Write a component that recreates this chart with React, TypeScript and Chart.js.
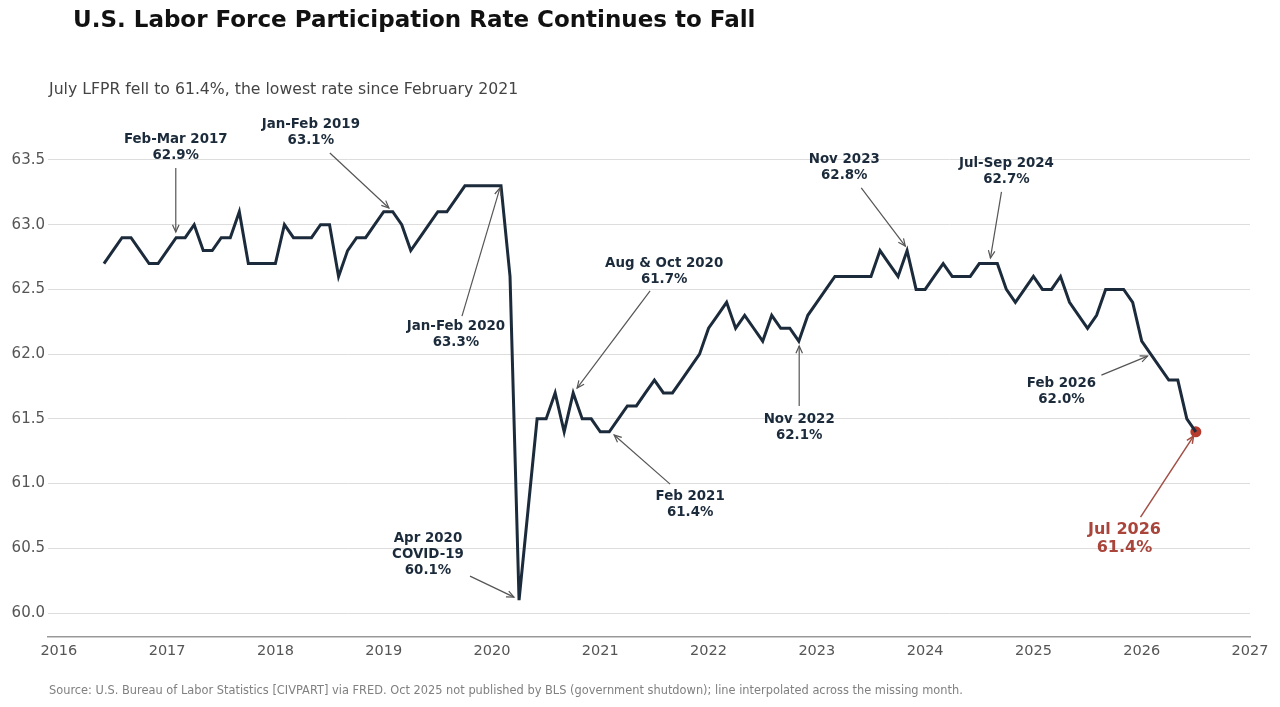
import React, { useEffect, useRef } from "react";
import { Chart, registerables } from "chart.js";

Chart.register(...registerables);

// ---- Data (monthly LFPR, %) ----
const START_YEAR = 2016;
const START_MONTH = 6; // series begins June 2016
const lfpr2016 = [62.7, 62.8, 62.9, 62.9, 62.8, 62.7, 62.7];
const lfpr2017 = [62.8, 62.9, 62.9, 63.0, 62.8, 62.8, 62.9, 62.9, 63.1, 62.7, 62.7, 62.7];
const lfpr2018 = [62.7, 63.0, 62.9, 62.9, 62.9, 63.0, 63.0, 62.6, 62.8, 62.9, 62.9, 63.0];
const lfpr2019 = [63.1, 63.1, 63.0, 62.8, 62.9, 63.0, 63.1, 63.1, 63.2, 63.3, 63.3, 63.3];
const lfpr2020 = [63.3, 63.3, 62.6, 60.1, 60.8, 61.5, 61.5, 61.7, 61.4, 61.7, 61.5, 61.5];
const lfpr2021 = [61.4, 61.4, 61.5, 61.6, 61.6, 61.7, 61.8, 61.7, 61.7, 61.8, 61.9, 62.0];
const lfpr2022 = [62.2, 62.3, 62.4, 62.2, 62.3, 62.2, 62.1, 62.3, 62.2, 62.2, 62.1, 62.3];
const lfpr2023 = [62.4, 62.5, 62.6, 62.6, 62.6, 62.6, 62.6, 62.8, 62.7, 62.6, 62.8, 62.5];
const lfpr2024 = [62.5, 62.6, 62.7, 62.6, 62.6, 62.6, 62.7, 62.7, 62.7, 62.5, 62.4, 62.5];
const lfpr2025 = [62.6, 62.5, 62.5, 62.6, 62.4, 62.3, 62.2, 62.3, 62.5, 62.5, 62.5, 62.4];
const lfpr2026 = [62.1, 62.0, 61.9, 61.8, 61.8, 61.5, 61.4];

const X_TICKS = [2016, 2017, 2018, 2019, 2020, 2021, 2022, 2023, 2024, 2025, 2026, 2027];
const Y_TICKS = [60.0, 60.5, 61.0, 61.5, 62.0, 62.5, 63.0, 63.5];

// annotations: text centre, arrow start, arrow end (data coordinates)
type Note = {
  lines: string[];
  tx: number; ty: number;
  ax: number; ay: number;
  ex: number; ey: number;
  red?: boolean;
};
const NOTES: Note[] = [
  { lines: ["Feb-Mar 2017", "62.9%"], tx: 2017.08, ty: 63.593, ax: 2017.08, ay: 63.438, ex: 2017.08, ey: 62.944 },
  { lines: ["Jan-Feb 2019", "63.1%"], tx: 2018.327, ty: 63.709, ax: 2018.503, ay: 63.554, ex: 2019.048, ey: 63.129 },
  { lines: ["Jan-Feb 2020", "63.3%"], tx: 2019.667, ty: 62.148, ax: 2019.723, ay: 62.294, ex: 2020.074, ey: 63.284 },
  { lines: ["Apr 2020", "COVID-19", "60.1%"], tx: 2019.409, ty: 60.455, ax: 2019.797, ay: 60.285, ex: 2020.203, ey: 60.123 },
  { lines: ["Aug & Oct 2020", "61.7%"], tx: 2021.59, ty: 62.642, ax: 2021.46, ay: 62.488, ex: 2020.786, ey: 61.738 },
  { lines: ["Feb 2021", "61.4%"], tx: 2021.83, ty: 60.842, ax: 2021.645, ay: 60.996, ex: 2021.128, ey: 61.375 },
  { lines: ["Nov 2022", "62.1%"], tx: 2022.837, ty: 61.437, ax: 2022.837, ay: 61.599, ex: 2022.837, ey: 62.063 },
  { lines: ["Nov 2023", "62.8%"], tx: 2023.253, ty: 63.438, ax: 2023.41, ay: 63.284, ex: 2023.817, ey: 62.835 },
  { lines: ["Jul-Sep 2024", "62.7%"], tx: 2024.751, ty: 63.407, ax: 2024.705, ay: 63.253, ex: 2024.603, ey: 62.743 },
  { lines: ["Feb 2026", "62.0%"], tx: 2025.259, ty: 61.715, ax: 2025.628, ay: 61.838, ex: 2026.054, ey: 61.985 },
  { lines: ["Jul 2026", "61.4%"], tx: 2025.841, ty: 60.571, ax: 2025.989, ay: 60.741, ex: 2026.479, ey: 61.367, red: true },
];

const NAVY = "#1c2b3b";
const RED = "#b63a2e";
const RED_TEXT = "#a9453b";
const RED_ARROW = "#a24e44";
const FONT = "'DejaVu Sans', sans-serif";

function buildPoints() {
  const all = [lfpr2016, lfpr2017, lfpr2018, lfpr2019, lfpr2020, lfpr2021, lfpr2022, lfpr2023, lfpr2024, lfpr2025, lfpr2026];
  const pts: { x: number; y: number }[] = [];
  all.forEach((arr, yi) => {
    const year = START_YEAR + yi;
    const firstMonth = yi === 0 ? START_MONTH : 1;
    arr.forEach((v, i) => {
      pts.push({ x: year + (firstMonth - 1 + i) / 12, y: v });
    });
  });
  return pts;
}

const notesPlugin = {
  id: "notes",
  afterDatasetsDraw(chart: any) {
    const { ctx, scales } = chart;
    const xs = scales.x;
    const ys = scales.y;
    ctx.save();
    NOTES.forEach((n) => {
      const color = n.red ? RED_ARROW : "#555555";
      const x1 = xs.getPixelForValue(n.ax);
      const y1 = ys.getPixelForValue(n.ay);
      const x2 = xs.getPixelForValue(n.ex);
      const y2 = ys.getPixelForValue(n.ey);
      ctx.strokeStyle = color;
      ctx.lineWidth = n.red ? 1.5 : 1.2;
      ctx.beginPath();
      ctx.moveTo(x1, y1);
      ctx.lineTo(x2, y2);
      ctx.stroke();
      const ang = Math.atan2(y2 - y1, x2 - x1);
      const hl = 8;
      const spread = 0.42;
      ctx.beginPath();
      ctx.moveTo(x2 - hl * Math.cos(ang - spread), y2 - hl * Math.sin(ang - spread));
      ctx.lineTo(x2, y2);
      ctx.lineTo(x2 - hl * Math.cos(ang + spread), y2 - hl * Math.sin(ang + spread));
      ctx.stroke();

      const cx = xs.getPixelForValue(n.tx);
      const cy = ys.getPixelForValue(n.ty);
      const size = n.red ? 16 : 13.4;
      const lh = n.red ? 18 : 16;
      ctx.font = `bold ${size}px ${FONT}`;
      ctx.fillStyle = n.red ? RED_TEXT : NAVY;
      ctx.textAlign = "center";
      ctx.textBaseline = "middle";
      n.lines.forEach((t, i) => {
        ctx.fillText(t, cx, cy + (i - (n.lines.length - 1) / 2) * lh);
      });
    });
    ctx.restore();
  },
};

export default function App() {
  const ref = useRef<HTMLCanvasElement | null>(null);

  useEffect(() => {
    document.body.style.margin = "0";
    const canvas = ref.current;
    if (!canvas) return;
    const pts = buildPoints();
    const last = pts[pts.length - 1];
    const chart = new Chart(canvas, {
      type: "line",
      data: {
        datasets: [
          {
            data: pts,
            borderColor: NAVY,
            borderWidth: 3,
            pointRadius: 0,
            tension: 0,
            fill: false,
            borderJoinStyle: "miter",
          },
          {
            data: [last],
            showLine: false,
            pointRadius: 5.5,
            pointBackgroundColor: RED,
            pointBorderColor: RED,
            pointBorderWidth: 0,
          },
        ],
      },
      options: {
        animation: false,
        responsive: false,
        maintainAspectRatio: false,
        layout: { padding: { left: 0, right: 30, top: 110, bottom: 40 } },
        plugins: {
          legend: { display: false },
          tooltip: { enabled: false },
          title: { display: false },
        },
        scales: {
          x: {
            type: "linear",
            min: 2015.9,
            max: 2027,
            grid: { display: false, drawTicks: false },
            border: { display: true, color: "#999999", width: 1.5 },
            ticks: {
              color: "#555555",
              font: { family: FONT, size: 14.5 },
              padding: 6,
              autoSkip: false,
              maxRotation: 0,
              callback: (v: any) => String(v),
            },
            afterBuildTicks: (s: any) => {
              s.ticks = X_TICKS.map((v) => ({ value: v }));
            },
            afterFit: (s: any) => {
              s.height = 30;
            },
          },
          y: {
            type: "linear",
            min: 59.815,
            max: 63.886,
            grid: { color: "#dddddd", lineWidth: 1, drawTicks: false },
            border: { display: false },
            ticks: {
              color: "#555555",
              font: { family: FONT, size: 15 },
              padding: 3,
              callback: (v: any) => Number(v).toFixed(1),
            },
            afterBuildTicks: (s: any) => {
              s.ticks = Y_TICKS.map((v) => ({ value: v }));
            },
            afterFit: (s: any) => {
              s.width = 48;
            },
          },
        },
      },
      plugins: [notesPlugin],
    } as any);
    return () => chart.destroy();
  }, []);

  return (
    <div style={{ position: "absolute", left: 0, top: 0, width: 1280, height: 707, background: "#fff", overflow: "hidden" }}>
      <canvas ref={ref} width={1280} height={707} style={{ position: "absolute", left: 0, top: 0, width: 1280, height: 707 }} />
      <div
        style={{
          position: "absolute", left: 73, top: 8, fontFamily: FONT, fontWeight: "bold",
          fontSize: 23, lineHeight: "23px", color: "#111", whiteSpace: "nowrap",
        }}
      >
        U.S. Labor Force Participation Rate Continues to Fall
      </div>
      <div
        style={{
          position: "absolute", left: 49, top: 80, fontFamily: FONT, fontSize: 15.7,
          lineHeight: "18px", color: "#444", whiteSpace: "nowrap",
        }}
      >
        July LFPR fell to 61.4%, the lowest rate since February 2021
      </div>
      <div
        style={{
          position: "absolute", left: 49, top: 683, fontFamily: FONT, fontSize: 11.4,
          lineHeight: "14px", color: "#808080", whiteSpace: "nowrap",
        }}
      >
        Source: U.S. Bureau of Labor Statistics [CIVPART] via FRED. Oct 2025 not published by BLS (government shutdown); line interpolated across the missing month.
      </div>
    </div>
  );
}
